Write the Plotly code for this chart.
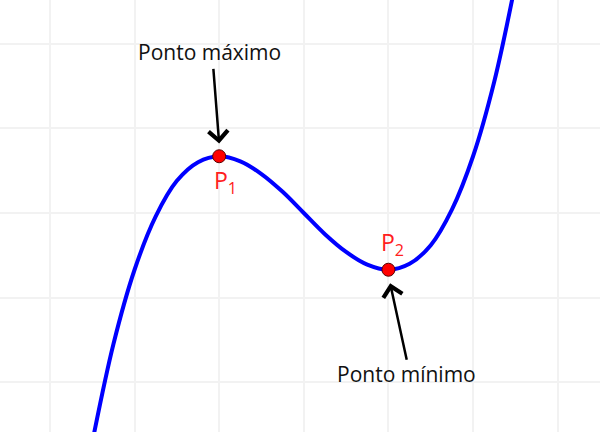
import plotly.graph_objects as go

# curve points (grid units, one square = 1)
curve_x = [-1.5, -1.25, -1.0, -0.75, -0.5, -0.25, 0.0, 0.25, 0.5, 0.75, 1.0,
           1.25, 1.5, 1.75, 2.0, 2.25, 2.5, 2.75, 3.0, 3.25, 3.5]
curve_y = [-2.71, -1.55, -0.67, -0.04, 0.38, 0.60, 0.67, 0.61, 0.46, 0.25, 0.0,
           -0.25, -0.46, -0.61, -0.67, -0.60, -0.38, 0.04, 0.67, 1.55, 2.71]

# extreme points
pts_x = [0.0, 2.0]
pts_y = [0.67, -0.67]
pts_labels = ["P<sub>1</sub>", "P<sub>2</sub>"]

fig = go.Figure()

fig.add_trace(go.Scatter(
    x=curve_x, y=curve_y, mode="lines",
    line=dict(color="#0000FF", width=4, shape="spline", smoothing=1.0),
    hoverinfo="skip", showlegend=False,
))

fig.add_trace(go.Scatter(
    x=pts_x, y=pts_y, mode="markers",
    marker=dict(color="#FF0000", size=13, line=dict(color="#5a0000", width=1)),
    showlegend=False,
))

# point labels
fig.add_annotation(x=pts_x[0], y=pts_y[0], text=pts_labels[0], showarrow=False,
                   xshift=6, yshift=-25, font=dict(size=23, color="#FF2020"))
fig.add_annotation(x=pts_x[1], y=pts_y[1], text=pts_labels[1], showarrow=False,
                   xshift=4, yshift=26, font=dict(size=23, color="#FF2020"))

# arrows
fig.add_annotation(x=0.0, y=0.82, ax=-0.07, ay=1.72, axref="x", ayref="y",
                   text="", showarrow=True, arrowhead=4, arrowsize=1.5,
                   arrowwidth=2.5, arrowcolor="black")
fig.add_annotation(x=2.02, y=-0.83, ax=2.22, ay=-1.75, axref="x", ayref="y",
                   text="", showarrow=True, arrowhead=4, arrowsize=1.5,
                   arrowwidth=2.5, arrowcolor="black")

# arrow captions
fig.add_annotation(x=-0.12, y=1.9, text="Ponto máximo", showarrow=False,
                   font=dict(size=21, color="#111111"))
fig.add_annotation(x=2.21, y=-1.9, text="Ponto mínimo", showarrow=False,
                   font=dict(size=21, color="#111111"))

axis_style = dict(showticklabels=False, zeroline=False, showline=False,
                  dtick=1, gridcolor="#f2f2f2", gridwidth=2, fixedrange=True)

fig.update_layout(
    width=600, height=432,
    margin=dict(l=0, r=0, t=0, b=0),
    plot_bgcolor="white", paper_bgcolor="white",
    font=dict(family="Open Sans, Noto Sans, sans-serif"),
    xaxis=dict(range=[-2.59, 4.5], tick0=0, **axis_style),
    yaxis=dict(range=[-2.586, 2.515], tick0=0, **axis_style),
)

# drop the page's default body margin so the figure fills the window
fig.write_html("out.html", config={"displayModeBar": False},
               post_script="document.body.style.margin='0';")
